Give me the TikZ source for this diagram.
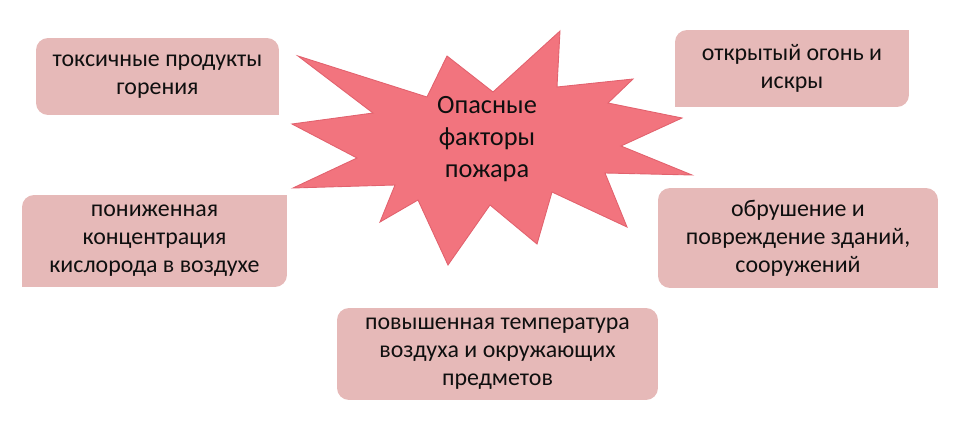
\documentclass[tikz,border=0pt]{standalone}
\usepackage{fontspec}
\setmainfont{Carlito}
\definecolor{boxpink}{RGB}{230,185,184}
\definecolor{starfill}{RGB}{242,116,126}
\definecolor{starline}{RGB}{226,98,110}
\definecolor{inktext}{RGB}{15,15,15}
\tikzset{
  factor/.style={fill=boxpink, rounded corners=0.24cm, align=center, text=inktext,
    inner sep=0pt, font=\fontsize{13.6}{16}\selectfont},
  title/.style={align=center, text=inktext, font=\fontsize{15}{18.2}\selectfont}
}
\begin{document}
\begin{tikzpicture}[x=0.02cm,y=-0.02cm]
      \useasboundingbox (0,0) rectangle (964,433);
      % star
      \filldraw[fill=starfill,draw=starline,line width=0.5pt]
        (298,56) -- (373,113) -- (292,124) -- (357,158) -- (293,188) -- (395,185)
        -- (380,222) -- (418,200) -- (448,265) -- (490,205) -- (537,244) -- (552,192)
        -- (627,227) -- (605,173) -- (692,175) -- (621,146) -- (682,118) -- (608,103)
        -- (633,79) -- (557,87) -- (560,31) -- (493,92) -- (447,56) -- (427,97) -- cycle;
      \node[title] (fire) at (487,139) {Опасные\\факторы\\пожара};
      % boxes
      \node[factor, minimum width=4.86cm, minimum height=1.54cm] (toxic) at (157.5,76.5)
        {токсичные продукты\\горения};
      \fill[boxpink] (toxic.south east) rectangle ++(-12,-12);
      \node[factor, minimum width=5.3cm, minimum height=1.84cm] (oxygen) at (154.5,241)
        {пониженная\\концентрация\\кислорода в воздухе};
      \fill[boxpink] (oxygen.north east) rectangle ++(-12,12);
      \fill[boxpink] (oxygen.south west) rectangle ++(12,-12);
      \node[factor, minimum width=4.68cm, minimum height=1.54cm] (flame) at (792,68.5)
        {открытый огонь и\\искры};
      \fill[boxpink] (flame.north east) rectangle ++(-12,12);
      \fill[boxpink] (flame.south west) rectangle ++(12,-12);
      \node[factor, minimum width=5.6cm, minimum height=2cm] (collapse) at (798,238)
        {обрушение и\\повреждение зданий,\\сооружений};
      \fill[boxpink] (collapse.south east) rectangle ++(-12,-12);
      \node[factor, minimum width=6.42cm, minimum height=1.84cm] (heat) at (497.5,354)
        {повышенная температура\\воздуха и окружающих\\предметов};
    \end{tikzpicture}
\end{document}
